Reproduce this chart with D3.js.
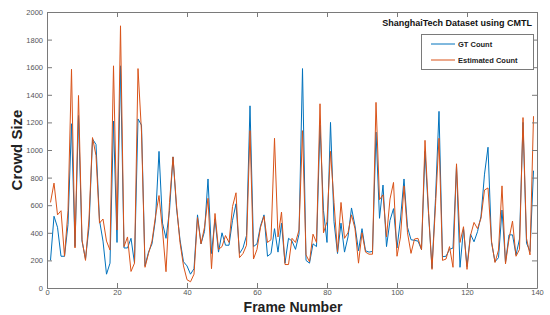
<!DOCTYPE html>
<html><head><meta charset="utf-8">
<script src="https://cdn.jsdelivr.net/npm/d3@7"></script>
<style>body{margin:0;background:#fff;} svg{display:block;font-family:"Liberation Sans",Arial,sans-serif;}</style>
</head><body>
<svg id="c" width="550" height="315"></svg>
<script>
const frames = d3.range(1, 140);
const gtCount = [200,520,440,230,230,460,1190,300,1250,340,210,440,1080,1040,490,340,100,180,1210,330,
1610,290,290,360,180,1225,1180,160,260,320,500,990,470,360,560,950,580,350,190,160,
100,140,530,320,410,790,250,500,260,400,310,310,490,610,250,290,380,1320,300,320,
450,530,230,250,430,260,470,180,360,340,280,390,1590,200,180,320,300,1180,560,330,
1200,480,250,470,260,370,580,450,270,430,270,260,265,1130,505,746,300,490,575,290,
500,790,440,350,345,340,278,990,540,143,650,1280,227,230,280,290,885,150,430,155,
390,335,408,520,825,1020,330,190,220,565,185,385,385,240,355,1200,325,265,850];
const estCount = [620,760,530,560,230,560,1585,290,1395,350,200,500,1090,960,470,500,340,275,1610,420,
1900,300,370,120,180,1590,1130,150,250,340,520,670,420,118,620,950,600,330,160,60,
45,100,510,320,440,650,140,540,280,300,380,330,590,690,220,250,310,1140,210,280,
440,520,330,350,1085,370,550,170,170,360,330,420,1140,240,190,390,330,1335,400,480,
990,620,260,620,360,400,530,430,180,400,260,245,245,1345,640,675,370,645,765,230,
370,740,400,251,355,360,278,1070,560,135,600,1085,200,210,300,150,900,330,444,135,
380,475,430,505,710,725,340,185,275,740,175,355,485,230,280,1235,360,240,1245];
const xTicks = [0,20,40,60,80,100,120,140];
const yTicks = [0,200,400,600,800,1000,1200,1400,1600,1800,2000];
const seriesNames = ["GT Count","Estimated Count"];
const colors = ["#0072BD","#D95319"];

const svg = d3.select("#c");
const L=47, R=537, T=12, B=288;
const x = d3.scaleLinear().domain([0,140]).range([L,R]);
const y = d3.scaleLinear().domain([0,2000]).range([B,T]);
const axisColor = "#7a7a7a", textColor = "#555";

// plot lines
const series = [gtCount, estCount];
const line = d3.line().x((d,i)=>x(frames[i])).y(d=>y(d));
series.forEach((s,k)=>{
  svg.append("path").datum(s).attr("d", line).attr("fill","none")
    .attr("stroke", colors[k]).attr("stroke-width",1).attr("stroke-linejoin","round");
});

// axes
function styleAxis(g){
  g.select(".domain").attr("stroke", axisColor);
  g.selectAll(".tick line").attr("stroke", axisColor);
  g.selectAll(".tick text").attr("fill", textColor).attr("font-size","7.5px");
}
svg.append("g").attr("transform",`translate(0,${B})`)
  .call(d3.axisBottom(x).tickValues(xTicks).tickFormat(d3.format("d")).tickSize(-5).tickPadding(2).tickSizeOuter(0)).call(styleAxis);
svg.append("g").attr("transform",`translate(0,${T})`)
  .call(d3.axisTop(x).tickValues(xTicks).tickSize(-5).tickFormat("").tickSizeOuter(0)).call(styleAxis);
svg.append("g").attr("transform",`translate(${L},0)`)
  .call(d3.axisLeft(y).tickValues(yTicks).tickFormat(d3.format("d")).tickSize(-5).tickPadding(4).tickSizeOuter(0)).call(styleAxis);
svg.append("g").attr("transform",`translate(${R},0)`)
  .call(d3.axisRight(y).tickValues(yTicks).tickSize(-5).tickFormat("").tickSizeOuter(0)).call(styleAxis);

// axis labels
svg.append("text").attr("x", 293).attr("y", 311.5).attr("text-anchor","middle")
  .attr("font-size","14px").attr("font-weight","bold").attr("fill","#222").text("Frame Number");
svg.append("text").attr("transform",`translate(22,${(T+B)/2}) rotate(-90)`).attr("text-anchor","middle")
  .attr("font-size","15px").attr("font-weight","bold").attr("fill","#222").text("Crowd Size");

// title
svg.append("text").attr("x", 532).attr("y", 26).attr("text-anchor","end")
  .attr("font-size","9px").attr("font-weight","bold").attr("fill","#111").text("ShanghaiTech Dataset using CMTL");

// legend
const lg = svg.append("g");
lg.append("rect").attr("x",421.5).attr("y",34.5).attr("width",112).attr("height",35)
  .attr("fill","#fff").attr("stroke",axisColor);
seriesNames.forEach((n,k)=>{
  const yy = 44 + k*16;
  lg.append("line").attr("x1",431).attr("x2",455).attr("y1",yy).attr("y2",yy)
    .attr("stroke",colors[k]).attr("stroke-width",1);
  lg.append("text").attr("x",458).attr("y",yy+3).attr("font-size","7.5px").attr("font-weight","bold")
    .attr("fill","#222").text(n);
});
</script>
</body></html>
